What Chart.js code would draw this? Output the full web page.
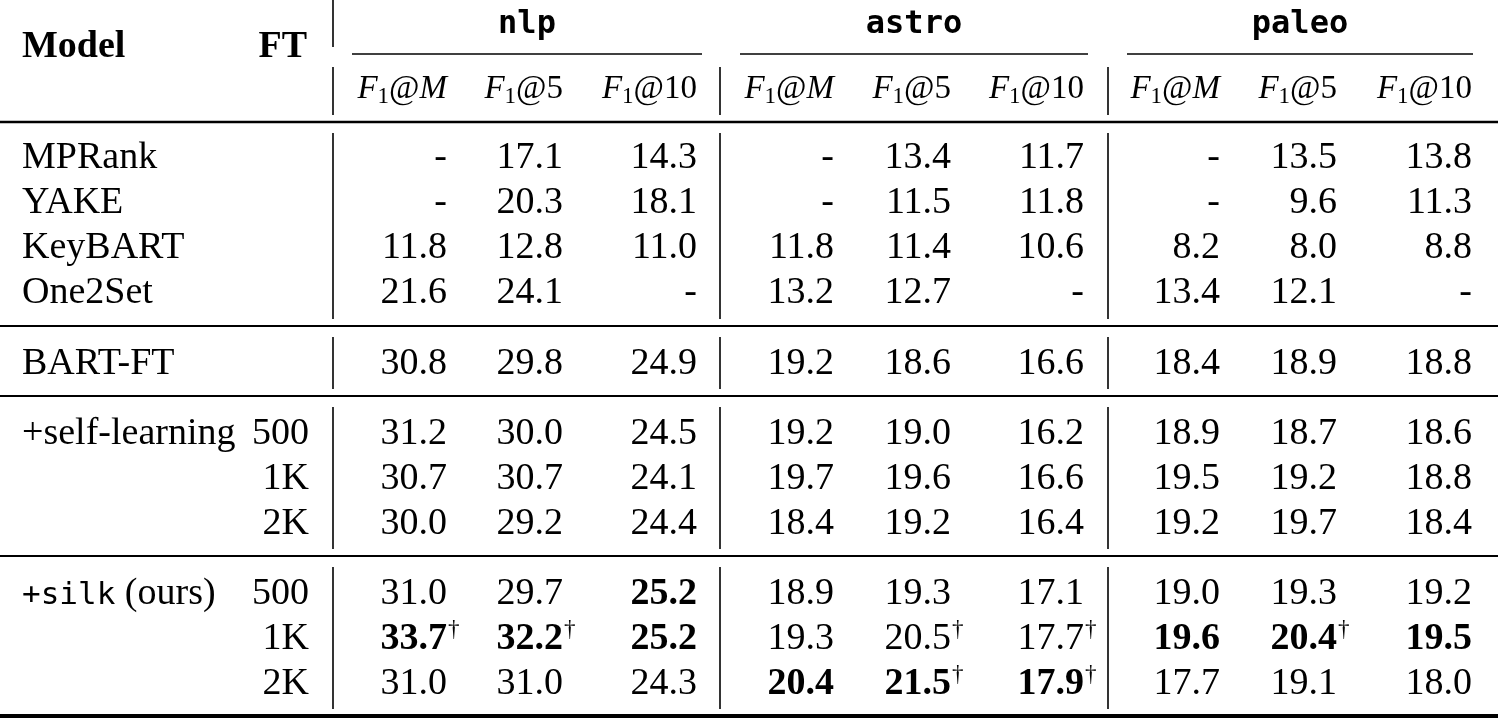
<!DOCTYPE html>
<html>
<head>
<meta charset="utf-8">
<script src="https://cdn.jsdelivr.net/npm/chart.js@4.4.1/dist/chart.umd.min.js"></script>
<style>
  body { margin: 0; background: #fff; }
  #wrap { width: 1498px; height: 720px; }
</style>
</head>
<body>
<div id="wrap"><canvas id="resultsTable"></canvas></div>
<script>
// table content
var models = ["MPRank", "YAKE", "KeyBART", "One2Set", "BART-FT", "+self-learning", "", "", "+silk (ours)", "", ""];
var ftSizes = ["", "", "", "", "", "500", "1K", "2K", "500", "1K", "2K"];
var domains = ["nlp", "astro", "paleo"];
var metrics = ["M", "5", "10"];

var nlpM    = [null, null, 11.8, 21.6, 30.8, 31.2, 30.7, 30.0, 31.0, 33.7, 31.0];
var nlp5    = [17.1, 20.3, 12.8, 24.1, 29.8, 30.0, 30.7, 29.2, 29.7, 32.2, 31.0];
var nlp10   = [14.3, 18.1, 11.0, null, 24.9, 24.5, 24.1, 24.4, 25.2, 25.2, 24.3];
var astroM  = [null, null, 11.8, 13.2, 19.2, 19.2, 19.7, 18.4, 18.9, 19.3, 20.4];
var astro5  = [13.4, 11.5, 11.4, 12.7, 18.6, 19.0, 19.6, 19.2, 19.3, 20.5, 21.5];
var astro10 = [11.7, 11.8, 10.6, null, 16.6, 16.2, 16.6, 16.4, 17.1, 17.7, 17.9];
var paleoM  = [null, null, 8.2, 13.4, 18.4, 18.9, 19.5, 19.2, 19.0, 19.6, 17.7];
var paleo5  = [13.5, 9.6, 8.0, 12.1, 18.9, 18.7, 19.2, 19.7, 19.3, 20.4, 19.1];
var paleo10 = [13.8, 11.3, 8.8, null, 18.8, 18.6, 18.8, 18.4, 19.2, 19.5, 18.0];

// [column, row] of bold (best) cells and of cells with a dagger
var bestCells = [[0, 9], [1, 9], [2, 8], [2, 9], [3, 10], [4, 10], [5, 10], [6, 9], [7, 9], [8, 9]];
var daggerCells = [[0, 9], [1, 9], [4, 9], [5, 9], [4, 10], [5, 10], [7, 9]];

// row groups (first, last) separated by rules
var rowGroups = [[0, 3], [4, 4], [5, 7], [8, 10]];

var columns = [nlpM, nlp5, nlp10, astroM, astro5, astro10, paleoM, paleo5, paleo10];

// layout (in page units, mapped through the chart scales)
var colRight = [447, 563, 697, 834, 951, 1084, 1220, 1337, 1472];
var rowY = [155, 200, 245, 290, 361, 431, 476, 521, 591, 636, 681];
var ruleY = [326, 396, 556];
var sepX = [333, 720, 1108];
var groupSpan = [[352, 702], [740, 1088], [1127, 1473]];

var SERIF = '"Liberation Serif", "Times New Roman", serif';
var MONO = '"DejaVu Sans Mono", monospace';

function hasCell(list, c, r) {
  return list.some(function (p) { return p[0] === c && p[1] === r; });
}

var tablePlugin = {
  id: "tablePlugin",
  beforeDatasetsDraw: function (chart) {
    var ctx = chart.ctx;
    var sx = chart.scales.x, sy = chart.scales.y;
    function hline(x1, x2, y, w) {
      ctx.lineWidth = w;
      ctx.beginPath();
      ctx.moveTo(sx.getPixelForValue(x1), sy.getPixelForValue(y));
      ctx.lineTo(sx.getPixelForValue(x2), sy.getPixelForValue(y));
      ctx.stroke();
    }
    function vline(x, y1, y2) {
      ctx.lineWidth = 1.6;
      ctx.beginPath();
      ctx.moveTo(sx.getPixelForValue(x), sy.getPixelForValue(y1));
      ctx.lineTo(sx.getPixelForValue(x), sy.getPixelForValue(y2));
      ctx.stroke();
    }
    ctx.save();
    ctx.strokeStyle = "#000";
    // rules
    hline(0, 1498, 122, 2.4);
    ruleY.forEach(function (y) { hline(0, 1498, y, 1.8); });
    hline(0, 1498, 716, 4);
    groupSpan.forEach(function (g) { hline(g[0], g[1], 54, 1.6); });
    // vertical separators
    vline(sepX[0], 0, 47);
    sepX.forEach(function (x) { vline(x, 67, 115); });
    var tops = [122].concat(ruleY);
    var bottoms = ruleY.concat([716]);
    rowGroups.forEach(function (g, i) {
      sepX.forEach(function (x) { vline(x, tops[i] + 11, bottoms[i] - 7); });
    });
    ctx.restore();
  },
  afterDatasetsDraw: function (chart) {
    var ctx = chart.ctx;
    var sx = chart.scales.x, sy = chart.scales.y;
    ctx.save();
    ctx.fillStyle = "#000";
    ctx.textBaseline = "alphabetic";

    // header
    ctx.font = "bold 38px " + SERIF;
    ctx.textAlign = "left";
    ctx.fillText("Model", sx.getPixelForValue(22), sy.getPixelForValue(57));
    ctx.textAlign = "right";
    ctx.fillText("FT", sx.getPixelForValue(307), sy.getPixelForValue(57));

    ctx.font = "bold 32px " + MONO;
    ctx.textAlign = "center";
    domains.forEach(function (d, i) {
      var cx = (groupSpan[i][0] + groupSpan[i][1]) / 2;
      ctx.fillText(d, sx.getPixelForValue(cx), sy.getPixelForValue(33));
    });

    // F1@k sub headers, right aligned
    colRight.forEach(function (xr, c) {
      var m = metrics[c % 3];
      var parts = [
        { t: "F", f: "italic 33px " + SERIF, dy: 0 },
        { t: "1", f: "23px " + SERIF, dy: 5 },
        { t: "@", f: "33px " + SERIF, dy: 0 },
        { t: m, f: (m === "M" ? "italic " : "") + "33px " + SERIF, dy: 0 }
      ];
      var total = 0;
      parts.forEach(function (p) { ctx.font = p.f; p.w = ctx.measureText(p.t).width; total += p.w; });
      var x = sx.getPixelForValue(xr) - total;
      ctx.textAlign = "left";
      parts.forEach(function (p) {
        ctx.font = p.f;
        ctx.fillText(p.t, x, sy.getPixelForValue(98 + p.dy));
        x += p.w;
      });
    });

    // row labels
    models.forEach(function (name, r) {
      if (!name) return;
      var y = sy.getPixelForValue(rowY[r] + 13);
      var x = sx.getPixelForValue(22);
      ctx.textAlign = "left";
      if (name.indexOf("+silk") === 0) {
        ctx.font = "31px " + MONO;
        ctx.fillText("+silk", x, y);
        x += ctx.measureText("+silk").width;
        ctx.font = "38px " + SERIF;
        ctx.fillText(name.slice(5), x, y);
      } else {
        ctx.font = "38px " + SERIF;
        ctx.fillText(name, x, y);
      }
    });
    ctx.font = "38px " + SERIF;
    ctx.textAlign = "right";
    ftSizes.forEach(function (ft, r) {
      if (ft) ctx.fillText(ft, sx.getPixelForValue(309), sy.getPixelForValue(rowY[r] + 13));
    });

    // cell values at the dataset points
    chart.data.datasets.forEach(function (ds, c) {
      var meta = chart.getDatasetMeta(c);
      meta.data.forEach(function (pt, r) {
        var v = columns[c][r];
        var txt = v === null ? "-" : v.toFixed(1);
        ctx.font = (hasCell(bestCells, c, r) ? "bold " : "") + "38px " + SERIF;
        ctx.textAlign = "right";
        ctx.fillText(txt, pt.x, pt.y + 13);
        if (hasCell(daggerCells, c, r)) {
          ctx.font = "23px " + SERIF;
          ctx.textAlign = "left";
          ctx.fillText("\u2020", pt.x + 1, pt.y);
        }
      });
    });
    ctx.restore();
  }
};

var ctxTable = document.getElementById("resultsTable").getContext("2d");
var resultsTable = new Chart(ctxTable, {
  type: "scatter",
  data: {
    datasets: columns.map(function (col, c) {
      return {
        label: domains[Math.floor(c / 3)] + " F1@" + metrics[c % 3],
        data: col.map(function (v, r) { return { x: colRight[c], y: rowY[r] }; }),
        pointRadius: 0,
        pointHoverRadius: 0
      };
    })
  },
  options: {
    responsive: true,
    maintainAspectRatio: false,
    animation: false,
    events: [],
    layout: { padding: 0 },
    plugins: { legend: { display: false }, tooltip: { enabled: false } },
    scales: {
      x: { type: "linear", min: 0, max: 1498, display: false },
      y: { type: "linear", min: 0, max: 720, reverse: true, display: false }
    }
  },
  plugins: [tablePlugin]
});
</script>
</body>
</html>
